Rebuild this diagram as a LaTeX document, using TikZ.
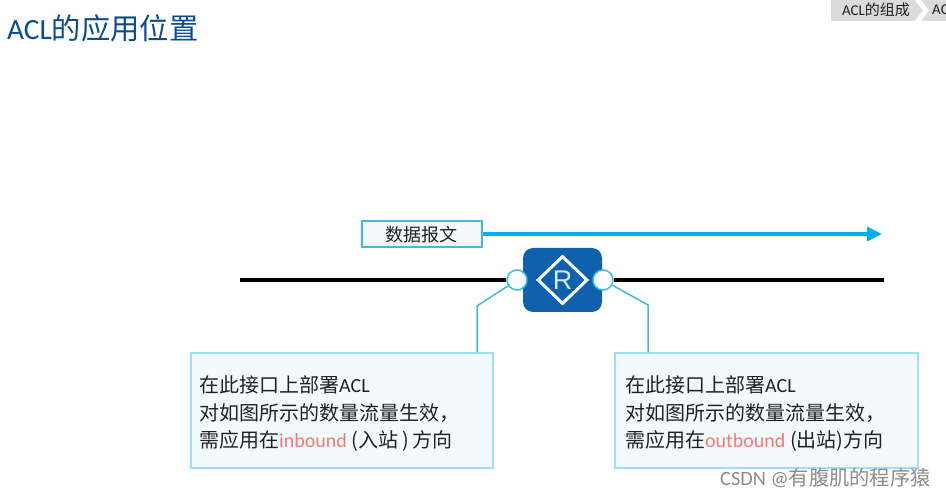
\documentclass[tikz,border=0pt]{standalone}
\usepackage{fontspec}
\usepackage{tikz}
\setmainfont{Noto Sans CJK SC}
\newfontfamily\latinfont{Carlito}
\newfontfamily\routerfont{Liberation Sans}
\usetikzlibrary{arrows.meta}
\usetikzlibrary{positioning}
\usetikzlibrary{shapes.geometric}
\definecolor{mtitle}{rgb}{0.04, 0.30, 0.56}
\definecolor{mcyan}{rgb}{0.0, 0.69, 0.94}
\definecolor{mline}{rgb}{0.25, 0.72, 0.91}
\definecolor{medge}{rgb}{0.62, 0.87, 0.98}
\definecolor{mfill}{rgb}{0.95, 0.98, 1.0}
\definecolor{mrouter}{rgb}{0.06, 0.38, 0.68}
\definecolor{mred}{rgb}{0.98, 0.47, 0.44}
\definecolor{mgrey}{rgb}{0.86, 0.86, 0.86}
\definecolor{mtext}{rgb}{0.13, 0.13, 0.13}
\tikzset{bigarrow/.style = {-{Triangle[width=14pt, length=15pt]}, mcyan, line width=4.5pt},
         notebox/.style = {draw=medge, line width=2pt, fill=mfill, minimum width=302.5pt,
                           minimum height=115pt, inner sep=0pt},
         notetext/.style = {anchor=west, text=mtext, font=\fontsize{20pt}{20pt}\selectfont, inner sep=0pt},
         port/.style = {circle, draw=mline, line width=1.5pt, fill=white, minimum size=20pt, inner sep=0pt},
         wire/.style = {line width=3.5pt, black},
         leader/.style = {mline, line width=1.5pt}}
\newcommand{\lat}[1]{{\latinfont #1}}
\begin{document}
\begin{tikzpicture}[x=1pt, y=-1pt]
    \useasboundingbox (0, 0) rectangle (946, 497);

    \node [anchor=west, inner sep=0pt, text=mtitle, font=\fontsize{29.3pt}{29.3pt}\selectfont] (title) at (7, 28) {\lat{ACL}的应用位置};

    \fill [mgrey] (831, 0) rectangle (946, 21);
    \fill [white] (915, 0) -- (921, 0) -- (929, 10.5) -- (921, 21) -- (915, 21) -- (923, 10.5) -- cycle;
    \node [inner sep=0pt, text=mtext, font=\fontsize{15pt}{15pt}\selectfont] (crumba) at (876, 10) {\lat{ACL}的组成};
    \node [anchor=west, inner sep=0pt, text=mtext, font=\fontsize{15pt}{15pt}\selectfont] (crumbb) at (932, 10) {\lat{AC}};

    \node [draw=mline, line width=2pt, fill=mfill, minimum width=120pt, minimum height=26pt, inner sep=0pt,
           text=mtext, font=\fontsize{18pt}{18pt}\selectfont] (packet) at (421.5, 234.5) {数据报文};
    \coordinate (arrowend) at (882, 234);
    \draw [bigarrow] (packet.east |- arrowend) -- (arrowend);

    \coordinate (wirea) at (240, 280);
    \coordinate (wireb) at (884, 280);
    \node [fill=mrouter, rounded corners=10pt, minimum width=79pt, minimum height=64pt, inner sep=0pt] (router) at (562.5, 280) {};
    \node [diamond, draw=white, line width=3pt, minimum width=50pt, minimum height=48pt, inner sep=0pt] (diamondbox) at (router.center) {};
    \node [text=white!85!mrouter, inner sep=0pt, font=\routerfont\fontsize{27pt}{27pt}\selectfont] (routerlabel) at (router.center) {R};
    \node [port] (porta) at (517, 280) {};
    \node [port] (portb) at (603, 280) {};
    \draw [wire] (wirea) -- (porta);
    \draw [wire] (portb) -- (wireb);

    \node [notebox, anchor=north west] (boxa) at (189.5, 352.3) {};
    \node [notebox, anchor=north west] (boxb) at (614.3, 352.3) {};

    \coordinate (benda) at (477, 306);
    \coordinate (bendb) at (648, 305);
    \draw [leader] (porta) -- (benda) -- (benda |- boxa.north);
    \draw [leader] (portb) -- (bendb) -- (bendb |- boxb.north);

    \node [notetext] (notea) at (199, 385) {在此接口上部署\lat{ACL}};
    \node [notetext] (noteb) at (199, 413) {对如图所示的数量流量生效，};
    \node [notetext] (notec) at (199, 441) {需应用在\textcolor{mred}{\lat{inbound}} (入站 )\,方向};

    \node [notetext] (noted) at (625, 385) {在此接口上部署\lat{ACL}};
    \node [notetext] (notee) at (625, 413) {对如图所示的数量流量生效，};
    \node [notetext] (notef) at (625, 441) {需应用在\textcolor{mred}{\lat{outbound}} (出站)方向};

    \node [anchor=east, inner sep=0pt, text=black!45, font=\fontsize{20.3pt}{20.3pt}\selectfont] (mark) at (931, 478) {\lat{CSDN @}有腹肌的程序猿};
\end{tikzpicture}
\end{document}
